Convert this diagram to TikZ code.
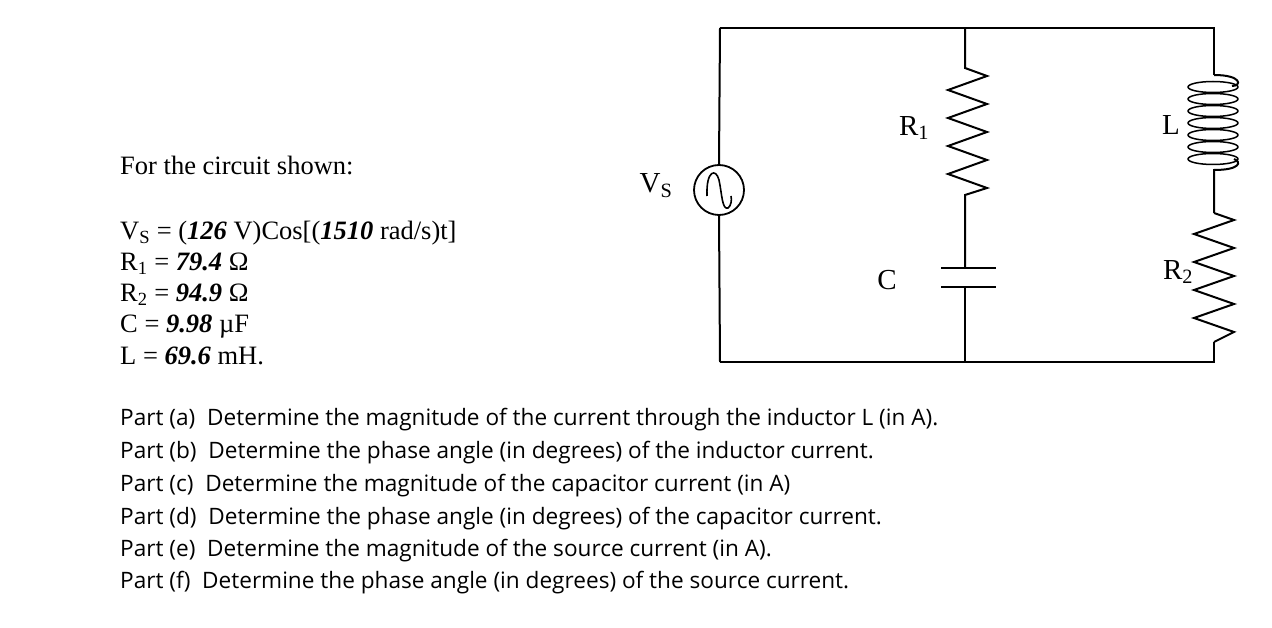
\documentclass[tikz,border=0pt]{standalone}
\usepackage{fontspec}
\setmainfont{Liberation Serif}
\newfontfamily\partfont{Open Sans}
\begin{document}
\begin{tikzpicture}[x=1pt,y=-1pt,
  wire/.style={line width=2pt},
  lbl/.style={font=\fontsize{29}{30}\selectfont, inner sep=0pt},
  given/.style={anchor=base west, inner sep=0pt, font=\fontsize{26.5}{28}\selectfont},
  part/.style={anchor=base west, inner sep=0pt, font=\partfont\fontsize{22.6}{24}\selectfont}]
\useasboundingbox (0,0) rectangle (1272,628);
% givens
\node[given] (t0) at (120,175) {For the circuit shown:};
\node[given] (t1) at (120,240) {V\textsubscript{S} = (\textbf{\textit{126}} V)Cos[(\textbf{\textit{1510}} rad/s)t]};
\node[given] (t2) at (120,271) {R\textsubscript{1} = \textbf{\textit{79.4}} Ω};
\node[given] (t3) at (120,302) {R\textsubscript{2} = \textbf{\textit{94.9}} Ω};
\node[given] (t4) at (120,333) {C = \textbf{\textit{9.98}} µF};
\node[given] (t5) at (120,364) {L = \textbf{\textit{69.6}} mH.};
% parts
\node[part] (p1) at (120,425) {Part (a)\ \ Determine the magnitude of the current through the inductor L (in A).};
\node[part] (p2) at (120,458) {Part (b)\ \ Determine the phase angle (in degrees) of the inductor current.};
\node[part] (p3) at (120,491) {Part (c)\ \ Determine the magnitude of the capacitor current (in A)};
\node[part] (p4) at (120,524) {Part (d)\ \ Determine the phase angle (in degrees) of the capacitor current.};
\node[part] (p5) at (120,556) {Part (e)\ \ Determine the magnitude of the source current (in A).};
\node[part] (p6) at (120,588) {Part (f)\ \ Determine the phase angle (in degrees) of the source current.};
% circuit
\coordinate (tl) at (720,28); \coordinate (tm) at (965,28); \coordinate (tr) at (1214,28);
\coordinate (bl) at (720,362); \coordinate (bm) at (965,362); \coordinate (br) at (1214,362);
\node[draw, line width=1.8pt, circle, minimum size=50pt] (src) at (719,190) {};
\draw[wire] (tl) -- (src.north); \draw[wire] (src.south) -- (bl);
\draw[line width=1.6pt] (707,196) .. controls (706,170) and (716,168) .. (719,180) .. controls (722,194) and (722,210) .. (728,208) .. controls (731,206) and (732,200) .. (731,196);
\node[lbl] (vs) at (656,186) {V\textsubscript{S}};
\draw[wire] (bl) -- (br) -- (1214,342);
\draw[wire] (tl) -- (tr) -- (1214,75);
% middle branch
\coordinate (r1t) at (965,68); \coordinate (r1b) at (965,195);
\draw[wire] (tm) -- (r1t) -- (987,76) -- (948,90) -- (987,104) -- (948,118) -- (987,132) -- (948,146) -- (987,160) -- (948,174) -- (987,188) -- (r1b) -- (965,268);
\draw[wire] (941,268) -- (996,268); \draw[wire] (941,287) -- (996,287);
\draw[wire] (965,287) -- (bm);
\node[lbl] (r1) at (914,128) {R\textsubscript{1}};
\node[lbl] (c) at (887,280) {C};
% right branch inductor
\draw[wire] (1214,75) .. controls (1242,75) and (1242,86) .. (1232,86);
\foreach \y in {87,99,111,123,135,147,159} {
  \draw[line width=1.5pt] (1213,\y) ellipse (25pt and 5.5pt);
}
\draw[wire] (1234,159) .. controls (1242,162) and (1240,170) .. (1214,170) -- (1214,213);
\draw[wire] (1214,213) -- (1234,220) -- (1194,234) -- (1234,248) -- (1194,262) -- (1234,276) -- (1194,290) -- (1234,304) -- (1194,318) -- (1234,332) -- (1214,342);
\node[lbl] (l) at (1171,125) {L};
\node[lbl] (r2) at (1178,272) {R\textsubscript{2}};
\end{tikzpicture}
\end{document}
